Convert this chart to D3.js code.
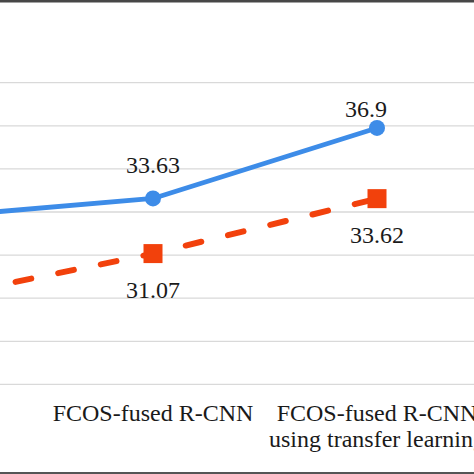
<!DOCTYPE html>
<html>
<head>
<meta charset="utf-8">
<script src="https://cdn.jsdelivr.net/npm/d3@7"></script>
<style>
  html, body { margin: 0; padding: 0; background: #fff; }
  svg { display: block; }
  text { font-family: "Liberation Serif", "Times New Roman", Tinos, "DejaVu Serif", serif; }
</style>
</head>
<body>
<svg id="chart" width="474" height="474"></svg>
<script>
// chart values (first category sits outside the visible crop)
const categories = ["Faster R-CNN", "FCOS-fused R-CNN", "FCOS-fused R-CNN using transfer learning"];
const seriesA = [32.74, 33.63, 36.9];
const seriesB = [28.93, 31.07, 33.62];
const yTicks = [25, 27, 29, 31, 33, 35, 37, 39];

const svg = d3.select("#chart");
const W = 474, H = 474;

const blue = "#3d8ce8";
const red = "#f2410c";

// plot spans further left than the picture shows
const x = d3.scalePoint()
    .domain(categories)
    .range([-71, 377]);

const y = d3.scaleLinear()
    .domain([25, 39])
    .range([384.4, 82.7]);

const visible = i => x(categories[i]) > 0;

// gridlines
svg.append("g")
  .selectAll("line")
  .data(yTicks)
  .enter()
  .append("line")
  .attr("x1", 0)
  .attr("x2", W)
  .attr("y1", d => y(d))
  .attr("y2", d => y(d))
  .attr("stroke", "#d9d9d9")
  .attr("stroke-width", 1.3);

const line = d3.line()
    .x((d, i) => x(categories[i]))
    .y(d => y(d));

// dashed series
svg.append("path")
  .datum(seriesB)
  .attr("d", line)
  .attr("fill", "none")
  .attr("stroke", red)
  .attr("stroke-width", 6)
  .attr("stroke-linecap", "round")
  .attr("stroke-dasharray", "16,27.5")
  .attr("stroke-dashoffset", -1.4);

// solid series
svg.append("path")
  .datum(seriesA)
  .attr("d", line)
  .attr("fill", "none")
  .attr("stroke", blue)
  .attr("stroke-width", 4.8)
  .attr("stroke-linejoin", "round");

svg.selectAll(".sq")
  .data(seriesB)
  .enter()
  .append("rect")
  .attr("class", "sq")
  .attr("x", (d, i) => x(categories[i]) - 9.5)
  .attr("y", d => y(d) - 9.5)
  .attr("width", 19)
  .attr("height", 19)
  .attr("fill", red);

svg.selectAll(".dot")
  .data(seriesA)
  .enter()
  .append("circle")
  .attr("class", "dot")
  .attr("cx", (d, i) => x(categories[i]))
  .attr("cy", d => y(d))
  .attr("r", 8)
  .attr("fill", blue);

// data labels; the top-right one was moved by hand in the original
const nudge = { 2: { dx: -11, dy: 14.5 } };

svg.selectAll(".labA")
  .data(seriesA.map((v, i) => ({ v, i })).filter(d => visible(d.i)))
  .enter()
  .append("text")
  .attr("class", "labA")
  .attr("x", d => x(categories[d.i]) + (nudge[d.i] ? nudge[d.i].dx : 0))
  .attr("y", d => y(d.v) - 25.6 + (nudge[d.i] ? nudge[d.i].dy : 0))
  .attr("text-anchor", "middle")
  .style("font-size", "24px")
  .style("fill", "#1a1a1a")
  .text(d => d.v);

svg.selectAll(".labB")
  .data(seriesB.map((v, i) => ({ v, i })).filter(d => visible(d.i)))
  .enter()
  .append("text")
  .attr("class", "labB")
  .attr("x", d => x(categories[d.i]))
  .attr("y", d => y(d.v) + 44.5)
  .attr("text-anchor", "middle")
  .style("font-size", "24px")
  .style("fill", "#1a1a1a")
  .text(d => d.v.toFixed(2));

// category labels, wrapped like the original
const wrapped = {
  "FCOS-fused R-CNN using transfer learning": ["FCOS-fused R-CNN", "using transfer learning"]
};

const catText = svg.selectAll(".cat")
  .data(categories.filter((c, i) => visible(i)))
  .enter()
  .append("text")
  .attr("class", "cat")
  .attr("x", d => x(d))
  .attr("y", 420.7)
  .attr("text-anchor", "middle")
  .style("font-size", "24px")
  .style("fill", "#1a1a1a");

catText.each(function (d) {
  const lines = wrapped[d] || [d];
  d3.select(this).selectAll("tspan")
    .data(lines)
    .enter()
    .append("tspan")
    .attr("x", x(d))
    .attr("dy", (l, i) => i === 0 ? 0 : 26)
    .text(l => l);
});

// dark frame edges of the cropped figure
svg.append("rect").attr("x", 0).attr("y", 0).attr("width", W).attr("height", 2.5).attr("fill", "#474747");
svg.append("rect").attr("x", 0).attr("y", 472).attr("width", W).attr("height", 2).attr("fill", "#555");
</script>
</body>
</html>
